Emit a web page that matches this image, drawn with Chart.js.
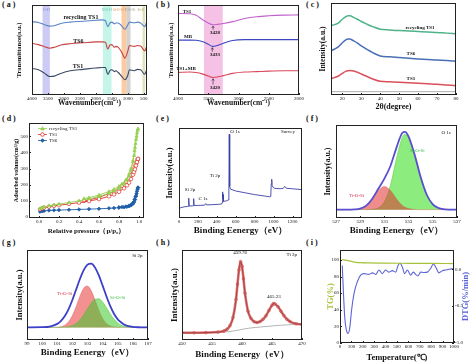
<!DOCTYPE html>
<html>
<head>
<meta charset="utf-8">
<script src="https://cdn.jsdelivr.net/npm/chart.js@4.4.0/dist/chart.umd.min.js"></script>
<style>
  html, body { margin: 0; padding: 0; background: #fff; }
  body { position: relative; width: 474px; height: 363px; overflow: hidden; font-family: 'Liberation Serif', 'Times New Roman', serif; }
  canvas { position: absolute; }
  .tag { position: absolute; font-weight: bold; font-size: 8px; white-space: pre; color: #111; }
</style>
</head>
<body>
<div class="tag" style="left:2px;top:0px">( a )</div>
<div class="tag" style="left:156px;top:0px">( b )</div>
<div class="tag" style="left:306px;top:0px">( c )</div>
<div class="tag" style="left:2px;top:114px">( d )</div>
<div class="tag" style="left:156px;top:114px">( e )</div>
<div class="tag" style="left:306px;top:114px">( f )</div>
<div class="tag" style="left:2px;top:238px">( g )</div>
<div class="tag" style="left:156px;top:238px">( h )</div>
<div class="tag" style="left:306px;top:238px">( i )</div>
<script>
// (a) FTIR
const ftirWave = [4000, 3800, 3600, 3450, 3300, 3100, 2800, 2400, 2000, 1800, 1700, 1630, 1560, 1500, 1420, 1380, 1300, 1200, 1090, 1000, 950, 800, 700, 600, 470, 420];
const ftirRecycled = [81.5, 80.5, 78, 76.5, 77, 79.5, 81, 82, 83, 83.5, 82.5, 76, 80, 81, 79, 80, 80, 77, 73, 78, 81, 80, 81, 80, 76, 80];
const ftirTS6 = [57.5, 56, 53.5, 52, 53, 55.5, 57, 58, 59, 59, 58.5, 51, 55.5, 56, 53, 54, 53, 48, 41, 49, 55, 54, 55, 54.5, 49, 53];
const ftirTS1 = [29.5, 28, 24, 20.5, 21, 24, 27, 28.5, 30, 30.5, 30.5, 23, 27, 28, 26, 27, 25, 21, 17, 22, 28, 27, 28.5, 28, 23, 27];
const ftirTicks = [4000, 3500, 3000, 2500, 2000, 1500, 1000, 500];

// (b) FTIR after MB adsorption
const irWave = [4000, 3800, 3700, 3600, 3500, 3430, 3350, 3250, 3100, 2900, 2700, 2500, 2250, 2000];
const irTS1 = [90.5, 90.3, 88.5, 84, 80, 78, 78.5, 79.5, 81.5, 85, 87, 88, 88.7, 89];
const irMB = [61, 61, 60.8, 59.5, 56.5, 54, 55, 57.5, 60.5, 61.5, 61.5, 61.5, 61.5, 61.5];
const irTS1MB = [25, 25.5, 25, 23.5, 21, 19.5, 20, 21.5, 24, 25.5, 26, 26.5, 27, 27];
const irTicks = [4000, 3500, 3000, 2500, 2000];

// (c) XRD
const xrdAngle = [14, 16, 18, 20, 22, 23, 24, 26, 28, 30, 33, 36, 40, 45, 50, 55, 60, 65, 70, 75, 80];
const xrdRecycled = [77, 78, 80, 84, 87, 87.8, 87.8, 86, 84, 81.5, 78.5, 75.8, 73, 72.2, 71.5, 71, 70.4, 69.8, 69.3, 68.6, 68];
const xrdTS6 = [49, 51, 53.7, 58, 61.5, 62.2, 62, 60, 57.5, 54.4, 50.5, 47, 43.3, 42.3, 41.5, 40.7, 40, 39.4, 38.9, 38.2, 37.4];
const xrdTS1 = [18, 19.5, 21.1, 24, 26.5, 27, 27.2, 26.7, 25.2, 23.3, 20.5, 17.8, 15.2, 14.6, 14.1, 13.5, 13, 12.4, 11.9, 11.1, 10.3];
const xrdBaseAngle = [14, 80];
const xrdBase = [3.7, 3.7];
const xrdTicks = [20, 30, 40, 50, 60, 70, 80];

// (d) N2 isotherms
const adsP = [0.01, 0.03, 0.05, 0.1, 0.15, 0.2, 0.3, 0.4, 0.5, 0.6, 0.7, 0.75, 0.8, 0.85, 0.88, 0.9, 0.92, 0.94, 0.95, 0.96, 0.97, 0.98, 0.99];
const desP = [0.99, 0.985, 0.975, 0.965, 0.955, 0.94, 0.92, 0.9, 0.87, 0.83, 0.8, 0.75, 0.7, 0.6, 0.5, 0.45];
const recycledAds = [52, 58, 62, 70, 75, 80, 90, 100, 112, 127, 147, 160, 178, 205, 228, 255, 290, 340, 380, 430, 480, 520, 545];
const recycledDes = [545, 535, 500, 455, 410, 350, 300, 265, 230, 205, 190, 172, 158, 136, 120, 114];
const ts1Ads = [48, 54, 58, 64, 69, 73, 81, 89, 99, 111, 128, 140, 156, 178, 196, 213, 235, 262, 278, 295, 318, 340, 360];
const ts1Des = [360, 355, 338, 320, 302, 280, 258, 240, 218, 192, 176, 158, 145, 122, 106, 100];
const ts6Ads = [33, 36, 38, 41, 42, 43, 45, 47, 49, 51, 54, 56, 58, 61, 64, 67, 72, 82, 92, 108, 130, 160, 182];
const ts6DesP = [0.99, 0.985, 0.975, 0.965, 0.955, 0.94, 0.92, 0.9, 0.87, 0.83, 0.8];
const ts6Des = [182, 172, 145, 125, 108, 88, 76, 70, 65, 62, 60];
const pressureTicks = [0, 0.2, 0.4, 0.6, 0.8, 1.0];
const volumeTicks = [0, 100, 200, 300, 400, 500];

// (e) XPS survey
const surveyEnergy = [0, 20, 40, 60, 90, 98, 103, 108, 140, 150, 155, 160, 200, 270, 283, 290, 350, 420, 450, 455, 460, 463, 466, 470, 500, 520, 527, 531, 534, 538, 545, 560, 600, 700, 800, 900, 960, 970, 975, 980, 985, 995, 1010, 1070, 1100, 1120, 1135, 1200, 1300];
const surveyIntensity = [10.5, 11.5, 12, 12.5, 12.8, 13, 22, 13.2, 13.5, 13.6, 21.5, 13.8, 14, 14.2, 16, 14.6, 14.8, 15.2, 15.6, 17, 29, 22, 26, 18.5, 19, 20, 30, 93, 60, 35, 32, 31.5, 30, 28, 26, 24.5, 23.5, 24, 38, 43, 36, 34, 33, 32.5, 33, 35, 33, 32.5, 31.5];
const surveyTicks = [0, 200, 400, 600, 800, 1000, 1200];

// (f) O 1s
const o1sEnergy = [527, 528, 528.5, 529, 529.5, 530, 530.5, 531, 531.5, 532, 532.5, 532.7, 533, 533.5, 534, 534.5, 535, 535.5, 536, 537];
const o1sSiOSi = [9, 9, 9, 9, 9, 9.3, 10.9, 17.4, 35.3, 64.2, 87.5, 90, 86.4, 67.8, 43.8, 25, 14.7, 10.6, 9.3, 9];
const o1sTiOSi = [9, 9, 9.2, 10.1, 13.3, 20.5, 29.6, 34, 29.6, 20.5, 13.3, 11.6, 10.1, 9.2, 9, 9, 9, 9, 9, 9];
const o1sEnvelope = [9, 9, 9.2, 10.1, 13.3, 20.8, 31.5, 42.4, 55.9, 75.7, 91.8, 92.6, 87.5, 68, 43.8, 25, 14.7, 10.6, 9.3, 9];
const o1sTicks = [527, 529, 531, 533, 535, 537];

// (g) Si 2p
const si2pEnergy = [99, 100, 100.5, 101, 101.25, 101.5, 101.75, 102, 102.25, 102.5, 102.75, 103, 103.25, 103.5, 103.75, 104, 104.25, 104.5, 104.75, 105, 105.25, 105.5, 105.75, 106, 106.5, 107];
const si2pTiOSi = [14, 14, 14, 14.2, 14.8, 16.5, 20.2, 27.2, 37.3, 48.7, 57.5, 59.9, 54.6, 44.2, 32.9, 23.9, 18.4, 15.6, 14.5, 14.1, 14, 14, 14, 14, 14, 14];
const si2pSiOSi = [14, 14, 14, 14, 14.1, 14.3, 14.8, 16, 18.3, 22.3, 28, 34.8, 41.2, 45.3, 45.7, 42.2, 36.2, 29.3, 23.3, 19, 16.3, 15, 14.4, 14.1, 14, 14];
const si2pEnvelope = [14, 14.2, 14.9, 17.9, 21.3, 26.7, 34.4, 44.5, 56.1, 67.8, 77.7, 83.7, 84.9, 80.4, 71.7, 60.4, 48.6, 37.9, 29.2, 23, 19.2, 16.5, 15.3, 14.5, 14.1, 14];
const si2pTicks = [99, 100, 101, 102, 103, 104, 105, 106, 107];

// (h) Ti 2p
const ti2pEnergy = [450, 452, 454, 456, 457, 457.5, 458, 458.5, 459, 459.25, 459.5, 459.76, 460, 460.25, 460.5, 461, 461.5, 462, 462.5, 463, 463.5, 464, 464.5, 465, 465.25, 465.5, 466, 466.5, 467, 467.5, 468, 469, 470];
const ti2pSignal = [8, 8, 8.2, 8.8, 10, 12, 16, 25, 45, 62, 78, 87, 82, 68, 52, 32, 24, 20.5, 19.5, 20.5, 23, 27, 33, 38.5, 40.5, 40, 37, 32, 27, 23, 20.5, 18, 17.4];
const ti2pBgEnergy = [450, 456, 457, 458, 459, 460, 461, 462, 463, 464, 465, 466, 468, 470];
const ti2pBg = [8, 8.3, 8.8, 9.5, 10.5, 11.8, 13, 13.8, 14.4, 15, 15.6, 16.2, 17, 17.5];
const ti2pTicks = [450, 455, 460, 465, 470];

// (i) TG / DTG
const tgTemp = [20, 60, 100, 140, 180, 250, 400, 600, 800, 1000];
const tgVal = [100.5, 99.6, 98.3, 97.2, 96.7, 96.4, 96.2, 96, 95.8, 95.7];
const dtgTemp = [20, 29, 41, 55, 70, 85, 102, 123, 152, 181, 211, 254, 284, 313, 342, 371, 400, 430, 459, 488, 509, 526, 547, 567, 591, 620, 643, 664, 684, 708, 737, 766, 795, 819, 839, 868, 898, 927, 956, 994];
const dtgVal = [0.05, -0.28, -0.64, -0.82, -0.87, -0.8, -0.55, -0.33, -0.17, -0.08, -0.06, -0.07, -0.05, -0.07, -0.01, -0.06, -0.01, -0.04, -0.02, -0.04, 0.05, 0.08, 0.03, -0.06, -0.01, -0.08, -0.04, -0.07, -0.09, -0.04, -0.045, -0.04, 0.01, 0.07, 0.03, -0.05, -0.02, -0.01, 0, 0.005];
const tempTicks = [0, 100, 200, 300, 400, 500, 600, 700, 800, 900, 1000];
const tgTicks = [0, 20, 40, 60, 80, 100];
const dtgTicks = [0, -0.5, -1.0];

const SERIF = "'Liberation Serif', 'Times New Roman', serif";
Chart.defaults.font.family = SERIF;
Chart.defaults.font.size = 5;
Chart.defaults.color = '#111';

const EXTRAS = {};

function pts(xs, ys) {
  return xs.map((x, i) => ({ x, y: ys[i] }));
}

function marker(ctx, style, x, y, r) {
  ctx.beginPath();
  if (style === 'triangle') {
    ctx.moveTo(x, y - r); ctx.lineTo(x + r, y + r * 0.8); ctx.lineTo(x - r, y + r * 0.8); ctx.closePath();
  } else if (style === 'rectRot') {
    ctx.moveTo(x, y - r); ctx.lineTo(x + r, y); ctx.lineTo(x, y + r); ctx.lineTo(x - r, y); ctx.closePath();
  } else {
    ctx.arc(x, y, r, 0, Math.PI * 2);
  }
  ctx.fill(); ctx.stroke();
}

Chart.register({
  id: 'extras',
  beforeDatasetsDraw(chart) {
    const e = EXTRAS[chart.canvas.id];
    if (!e || !e.bands) return;
    const { ctx, chartArea: a } = chart;
    const x = chart.scales.x;
    ctx.save();
    e.bands.forEach((b) => {
      const p1 = x.getPixelForValue(b.from);
      const p2 = x.getPixelForValue(b.to);
      ctx.fillStyle = b.color;
      ctx.fillRect(Math.min(p1, p2), a.top, Math.abs(p2 - p1), a.bottom - a.top);
    });
    ctx.restore();
  },
  afterDraw(chart) {
    const { ctx, chartArea: a } = chart;
    const e = EXTRAS[chart.canvas.id] || {};
    ctx.save();
    ctx.strokeStyle = '#222';
    ctx.lineWidth = 1;
    ctx.strokeRect(a.left + 0.5, a.top + 0.5, a.right - a.left - 1, a.bottom - a.top - 1);
    // small inward tick marks
    Object.values(chart.scales).forEach((s) => {
      s.ticks.forEach((t) => {
        const p = Math.round(s.getPixelForValue(t.value)) + 0.5;
        ctx.beginPath();
        if (s.position === 'bottom') { ctx.moveTo(p, a.bottom); ctx.lineTo(p, a.bottom - 2); }
        else if (s.position === 'left') { ctx.moveTo(a.left, p); ctx.lineTo(a.left + 2, p); }
        else { ctx.moveTo(a.right, p); ctx.lineTo(a.right - 2, p); }
        ctx.stroke();
      });
    });
    const x = chart.scales.x;
    const y = chart.scales.y;
    (e.arrows || []).forEach((r) => {
      const px = x.getPixelForValue(r.x);
      const p1 = y.getPixelForValue(r.from);
      const p2 = y.getPixelForValue(r.to);
      ctx.lineWidth = 0.6;
      ctx.beginPath(); ctx.moveTo(px, p1); ctx.lineTo(px, p2); ctx.stroke();
      ctx.beginPath(); ctx.moveTo(px - 1.2, p2 + 1.8); ctx.lineTo(px, p2); ctx.lineTo(px + 1.2, p2 + 1.8); ctx.stroke();
    });
    (e.notes || []).forEach((n) => {
      ctx.font = (n.bold ? 'bold ' : '') + (n.size || 5) + 'px ' + SERIF;
      ctx.fillStyle = n.color || '#111';
      ctx.textAlign = n.align || 'center';
      ctx.textBaseline = 'middle';
      ctx.fillText(n.text, x.getPixelForValue(n.x), y.getPixelForValue(n.y));
    });
    (e.legend || []).forEach((l, i) => {
      const yy = a.top + 5.5 + i * 6;
      ctx.strokeStyle = l.color;
      ctx.lineWidth = 0.8;
      ctx.beginPath(); ctx.moveTo(a.left + 9, yy); ctx.lineTo(a.left + 18, yy); ctx.stroke();
      ctx.fillStyle = l.fill;
      marker(ctx, l.style, a.left + 13.5, yy, 1.8);
      ctx.fillStyle = '#222';
      ctx.font = '5px ' + SERIF;
      ctx.textAlign = 'left';
      ctx.textBaseline = 'middle';
      ctx.fillText(l.text, a.left + 20, yy);
    });
    if (e.sideTitle) {
      // right-hand title reading bottom to top, like the left one
      const t = e.sideTitle;
      ctx.translate(chart.width - t.size * 0.6, (a.top + a.bottom) / 2);
      ctx.rotate(-Math.PI / 2);
      ctx.font = 'bold ' + t.size + 'px ' + SERIF;
      ctx.fillStyle = t.color;
      ctx.textAlign = 'center';
      ctx.textBaseline = 'middle';
      ctx.fillText(t.text, 0, 0);
    }
    ctx.restore();
  }
});

function ax(o) {
  const horiz = o.pos === 'bottom';
  return {
    type: 'linear',
    position: o.pos,
    min: o.min,
    max: o.max,
    reverse: !!o.reverse,
    afterBuildTicks: (s) => { s.ticks = (o.ticks || []).map((v) => ({ value: v })); },
    afterFit: (s) => { if (horiz) s.height = o.size; else s.width = o.size; },
    grid: { display: false, drawTicks: false },
    border: { display: false },
    ticks: {
      font: { size: 5 }, padding: 1, maxRotation: 0, autoSkip: false, color: '#111',
      callback: o.fmt || ((v) => String(v))
    },
    title: {
      display: !!o.title, text: o.title, color: o.tcolor || '#111', padding: 0,
      font: { size: o.tsize || 8, weight: 'bold' }
    }
  };
}

function make(id, cell, plot, datasets, xo, yo, y2o, extras) {
  const [cx, cy, cw, ch] = cell;
  const [L, T, R, B] = plot;
  const cv = document.createElement('canvas');
  cv.id = id;
  cv.width = cw;
  cv.height = ch;
  cv.style.left = cx + 'px';
  cv.style.top = cy + 'px';
  cv.style.width = cw + 'px';
  cv.style.height = ch + 'px';
  document.body.appendChild(cv);
  EXTRAS[id] = extras || {};
  const scales = {
    x: ax(Object.assign({ pos: 'bottom', size: cy + ch - B }, xo)),
    y: ax(Object.assign({ pos: 'left', size: L - cx }, yo))
  };
  if (y2o) scales.y2 = ax(Object.assign({ pos: 'right', size: cx + cw - R }, y2o));
  new Chart(cv, {
    type: 'scatter',
    data: { datasets },
    options: {
      responsive: false,
      animation: false,
      layout: { padding: { top: T - cy, right: y2o ? 0 : cx + cw - R, left: 0, bottom: 0 } },
      plugins: { legend: { display: false }, tooltip: { enabled: false } },
      scales
    }
  });
}

function line(data, color, width, extra) {
  return Object.assign({
    data, borderColor: color, borderWidth: width || 1, pointRadius: 0, showLine: true,
    cubicInterpolationMode: 'monotone', fill: false
  }, extra || {});
}

// (a)
make('pa', [15, 0, 140, 108], [32, 5, 147, 95], [
  line(pts(ftirWave, ftirRecycled), '#5b84c4', 1.1),
  line(pts(ftirWave, ftirTS6), '#c74242', 1.1),
  line(pts(ftirWave, ftirTS1), '#3b4a63', 1.1)
], { min: 400, max: 4000, reverse: true, ticks: ftirTicks, title: 'Wavenumber(cm⁻¹)', tsize: 7.5 },
{ min: 0, max: 100, title: 'Transmittance(a.u.)', tsize: 6.5 }, null, {
  bands: [
    { from: 3670, to: 3440, color: 'rgba(140,140,235,0.45)' },
    { from: 1780, to: 1510, color: 'rgba(150,235,215,0.55)' },
    { from: 1197, to: 1041, color: 'rgba(250,175,110,0.65)' },
    { from: 1041, to: 916, color: 'rgba(175,175,175,0.55)' },
    { from: 540, to: 460, color: 'rgba(205,210,140,0.6)' }
  ],
  notes: [
    { x: 3555, y: 94.4, text: 'O-H', size: 4, color: '#8585d8' },
    { x: 1656, y: 94.4, text: 'H-O-H', size: 3.5, color: '#5fbfa6' },
    { x: 1297, y: 94.4, text: 'Si-O-Si', size: 3.5, color: '#e0954e' },
    { x: 938, y: 94.4, text: 'Ti-O-Si', size: 3.5, color: '#999' },
    { x: 590, y: 94.4, text: 'Si-O', size: 3.5, color: '#a5a35a' },
    { x: 2469, y: 86.7, text: 'recycling TS1', size: 6, bold: true },
    { x: 2547, y: 59.6, text: 'TS6', size: 6, bold: true },
    { x: 2560, y: 32.2, text: 'TS1', size: 6, bold: true }
  ]
});

// (b)
make('pb', [167, 0, 143, 108], [178, 5, 299, 95], [
  line(pts(irWave, irTS1), '#c061cb', 1.1),
  line(pts(irWave, irMB), '#3a47c0', 1.1),
  line(pts(irWave, irTS1MB), '#d9475a', 1.1)
], { min: 2000, max: 4000, reverse: true, ticks: irTicks, title: 'Wavenumber(cm⁻¹)', tsize: 7.5 },
{ min: 0, max: 100, title: 'Transmittance(a.u.)', tsize: 6.5 }, null, {
  bands: [{ from: 3570, to: 3260, color: 'rgba(240,160,215,0.65)' }],
  notes: [
    { x: 3851, y: 92.2, text: 'TS1', bold: true, size: 5 },
    { x: 3835, y: 64.4, text: 'MB', bold: true, size: 5 },
    { x: 3868, y: 28.9, text: 'TS1+MB', bold: true, size: 5 },
    { x: 3388, y: 68.9, text: '3428', bold: true, size: 5 },
    { x: 3388, y: 44.4, text: '3433', bold: true, size: 5 },
    { x: 3388, y: 7.8, text: '3420', bold: true, size: 5 }
  ],
  arrows: [
    { x: 3420, from: 72.5, to: 76.5 },
    { x: 3433, from: 48, to: 52.5 },
    { x: 3420, from: 11.5, to: 18 }
  ]
});

// (c)
make('pc', [319, 0, 155, 112], [331, 3, 456, 95], [
  line(pts(xrdAngle, xrdRecycled), '#4fb38a', 1.5),
  line(pts(xrdAngle, xrdTS6), '#4a6fb5', 1.5),
  line(pts(xrdAngle, xrdTS1), '#d9505c', 1.5),
  line(pts(xrdBaseAngle, xrdBase), '#9a9a9a', 0.8)
], { min: 14, max: 80, ticks: xrdTicks, title: '2θ(degree)', tsize: 8 },
{ min: 0, max: 102, title: 'Intensity(a.u.)', tsize: 7.5 }, null, {
  notes: [
    { x: 61, y: 74.3, text: 'recycling TS1', bold: true, size: 5 },
    { x: 56.2, y: 45.5, text: 'TS6', bold: true, size: 5 },
    { x: 56.2, y: 17.7, text: 'TS1', bold: true, size: 5 }
  ]
});

// (d)
const GD = '#96d152', RD = '#e0302a', BD = '#1f5fa8';
const isoStyle = (color, style, fill) => ({
  borderColor: color, borderWidth: 0.9, pointStyle: style, pointRadius: 1.8,
  pointBackgroundColor: fill, pointBorderColor: color, pointBorderWidth: 0.7,
  showLine: true, tension: 0, fill: false
});
make('pd', [13, 118, 142, 117], [29, 123, 144, 218], [
  Object.assign({ data: pts(adsP, recycledAds) }, isoStyle(GD, 'triangle', GD)),
  Object.assign({ data: pts(desP, recycledDes) }, isoStyle(GD, 'triangle', GD)),
  Object.assign({ data: pts(adsP, ts1Ads) }, isoStyle(RD, 'circle', '#fff')),
  Object.assign({ data: pts(desP, ts1Des) }, isoStyle(RD, 'circle', '#fff')),
  Object.assign({ data: pts(adsP, ts6Ads) }, isoStyle(BD, 'rectRot', BD)),
  Object.assign({ data: pts(ts6DesP, ts6Des) }, isoStyle(BD, 'rectRot', BD))
], { min: -0.1, max: 1.05, ticks: pressureTicks, fmt: (v) => v.toFixed(1), title: 'Relative pressure（p/p₀）', tsize: 7 },
{ min: -6, max: 582, ticks: volumeTicks, title: 'Adsorbed volume(cm³/g)', tsize: 6 }, null, {
  legend: [
    { text: 'recycling TS1', color: GD, fill: GD, style: 'triangle' },
    { text: 'TS1', color: RD, fill: '#fff', style: 'circle' },
    { text: 'TS6', color: BD, fill: BD, style: 'rectRot' }
  ]
});

// (e)
make('pe', [165, 118, 145, 118], [179, 128, 302, 218], [
  line(pts(surveyEnergy, surveyIntensity), '#3b3fa5', 0.9, { cubicInterpolationMode: 'default', tension: 0 })
], { min: 0, max: 1300, ticks: surveyTicks, title: 'Binding Eenergy（eV）', tsize: 9 },
{ min: 0, max: 100, title: 'Intensity(a.u.)', tsize: 8.5 }, null, {
  notes: [
    { x: 116, y: 31, text: 'Si 2p' },
    { x: 254, y: 22, text: 'C 1s' },
    { x: 380, y: 46.7, text: 'Ti 2p' },
    { x: 592, y: 95.5, text: 'O 1s' },
    { x: 1152, y: 95.5, text: 'Survey' }
  ]
});

// (f)
make('pf', [323, 118, 151, 118], [336, 125, 457, 218], [
  line(pts(o1sEnergy, o1sEnvelope), '#5a4fcf', 1.8),
  line(pts(o1sEnergy, o1sTiOSi), 'rgba(220,50,50,0.5)', 0.6, { fill: { value: 9 }, backgroundColor: 'rgba(225,45,45,0.55)' }),
  line(pts(o1sEnergy, o1sSiOSi), 'rgba(80,200,60,0.8)', 0.6, { fill: { value: 9 }, backgroundColor: 'rgba(95,228,75,0.72)' })
], { min: 527, max: 537, ticks: o1sTicks, title: 'Binding Eenergy（eV）', tsize: 9 },
{ min: 0, max: 100, title: 'Intensity(a.u.)', tsize: 8 }, null, {
  notes: [
    { x: 536.1, y: 91.4, text: 'O 1s' },
    { x: 533.7, y: 72, text: 'Si-O-Si', color: '#3cbf45' },
    { x: 528.7, y: 23.7, text: 'Ti-O-Si', color: '#d8334a' }
  ]
});

// (g)
make('pg', [15, 240, 140, 118], [27, 250, 148, 340], [
  line(pts(si2pEnergy, si2pEnvelope), '#3c3fc8', 1.8),
  line(pts(si2pEnergy, si2pSiOSi), 'rgba(60,190,40,0.7)', 0.6, { fill: { value: 14 }, backgroundColor: 'rgba(60,200,40,0.55)' }),
  line(pts(si2pEnergy, si2pTiOSi), 'rgba(210,50,50,0.55)', 0.6, { fill: { value: 14 }, backgroundColor: 'rgba(235,70,70,0.6)' })
], { min: 99, max: 107, ticks: si2pTicks, title: 'Binding Eenergy（eV）', tsize: 9 },
{ min: 0, max: 100, title: 'Intensity(a.u.)', tsize: 8.5 }, null, {
  notes: [
    { x: 101.5, y: 51, text: 'Ti-O-Si', color: '#d8334a' },
    { x: 105, y: 46.7, text: 'Si-O-Si', color: '#3cbf45' },
    { x: 106.3, y: 94, text: 'Si 2p' }
  ]
});

// (h)
make('ph', [169, 240, 141, 120], [182, 250, 302, 340], [
  line(pts(ti2pEnergy, ti2pSignal), '#7a2a2a', 0.6),
  line(pts(ti2pEnergy, ti2pSignal), 'rgba(222,100,100,0.9)', 2.6, {
    pointRadius: 1.4, pointBackgroundColor: 'rgba(230,120,120,0.9)', pointBorderColor: '#d05050', pointBorderWidth: 0.5
  }),
  line(pts(ti2pBgEnergy, ti2pBg), '#b5b5b5', 1)
], { min: 450, max: 470, ticks: ti2pTicks, title: 'Binding Eenergy（eV）', tsize: 9 },
{ min: 0, max: 100, title: 'Intensity(a.u.)', tsize: 9 }, null, {
  notes: [
    { x: 459.7, y: 96.7, text: '459.76' },
    { x: 465.3, y: 47.8, text: '465.23' },
    { x: 468.3, y: 94.4, text: 'Ti 2p' }
  ]
});

// (i)
make('pi', [326, 240, 145, 123], [340, 250, 454, 343], [
  line(pts(tgTemp, tgVal), '#a6c23a', 1.2),
  line(pts(dtgTemp, dtgVal), '#5b63d6', 1.1, { yAxisID: 'y2' })
], { min: 0, max: 1000, ticks: tempTicks, title: 'Temperature(℃)', tsize: 8.5 },
{ min: 0, max: 112, ticks: tgTicks, title: 'TG(%)', tsize: 8.5, tcolor: '#a6c23a' },
{ min: -1.0, max: 0.26, ticks: dtgTicks, fmt: (v) => v.toFixed(1) }, {
  sideTitle: { text: 'DTG(%/min)', size: 8.5, color: '#5b63d6' }
});
</script>
</body>
</html>
